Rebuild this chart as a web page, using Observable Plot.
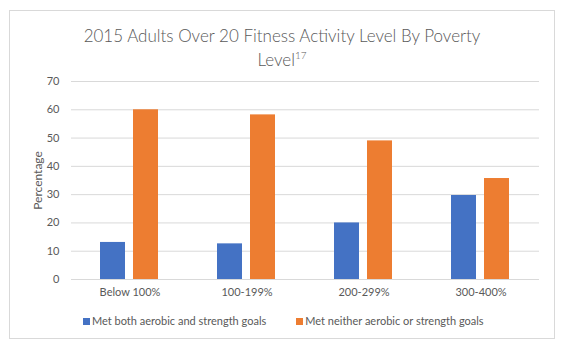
<!DOCTYPE html>
<html>
<head>
<meta charset="utf-8">
<script src="https://cdn.jsdelivr.net/npm/d3@7"></script>
<script src="https://cdn.jsdelivr.net/npm/@observablehq/plot@0.6"></script>
<style>
  html, body { margin: 0; padding: 0; background: #fff; }
  body { width: 570px; height: 349px; position: relative; overflow: hidden; font-family: Lato, "Open Sans", sans-serif; }
  #frame { position: absolute; left: 9px; top: 10px; width: 546px; height: 329px; box-sizing: border-box; border: 1px solid #d9d9d9; }
  #title { position: absolute; left: 9px; width: 546px; top: 24px; text-align: center; color: #595959; font-size: 17px; line-height: 24px; font-weight: 300; }
  #title sup { font-size: 10px; vertical-align: 7px; line-height: 0; }
  #chart { position: absolute; left: 0; top: 70px; }
  #legend { position: absolute; top: 314px; left: 83px; display: flex; gap: 30px; color: #595959; font-size: 11px; line-height: 14px; white-space: nowrap; }
  #legend .item { display: flex; align-items: center; }
  #legend .sw { width: 7px; height: 7px; margin-right: 2px; }
</style>
</head>
<body>
<div id="frame"></div>
<div id="title">2015 Adults Over 20 Fitness Activity Level By Poverty<br>Level<sup>17</sup></div>
<div id="chart"></div>
<div id="legend"></div>
<script>
const categories = ["Below 100%", "100-199%", "200-299%", "300-400%"];
const seriesNames = ["Met both aerobic and strength goals", "Met neither aerobic or strength goals"];
const metBoth = [13.1, 12.6, 20.0, 29.7];
const metNeither = [60.0, 58.2, 49.0, 35.7];
const seriesColors = ["#4472C4", "#ED7D31"];
const yTicks = [0, 10, 20, 30, 40, 50, 60, 70];
const yLabel = "Percentage";

const table = [];
categories.forEach((c, i) => {
  table.push({category: c, series: seriesNames[0], value: metBoth[i]});
  table.push({category: c, series: seriesNames[1], value: metNeither[i]});
});

const chart = Plot.plot({
  width: 570,
  height: 234,
  marginLeft: 70,
  marginRight: 30,
  marginTop: 11,
  marginBottom: 25,
  style: {fontFamily: "Lato, 'Open Sans', sans-serif", fontSize: "11px", color: "#595959", background: "transparent"},
  fx: {domain: categories, padding: 0, label: null},
  x: {domain: seriesNames, paddingInner: 0.235, paddingOuter: 0.846, axis: null},
  y: {domain: [0, 70], ticks: yTicks, label: null},
  color: {domain: seriesNames, range: seriesColors},
  marks: [
    Plot.gridY(yTicks, {stroke: "#d9d9d9", strokeOpacity: 1}),
    Plot.barY(table, {fx: "category", x: "series", y: "value", fill: "series"}),
    Plot.ruleY([0], {stroke: "#d9d9d9"}),
    Plot.axisY(yTicks, {tickSize: 0, tickPadding: 12, fontSize: 11, label: yLabel, labelAnchor: "center", labelArrow: "none", labelOffset: 38}),
    Plot.axisFx({anchor: "bottom", tickSize: 0, tickPadding: 9, label: null, fontSize: 11})
  ]
});
document.getElementById("chart").appendChild(chart);
// axis label font size to match reference
chart.querySelectorAll("[aria-label='y-axis label'] text, [aria-label='y-axis label']").forEach(n => n.setAttribute("font-size", 12));

const legend = document.getElementById("legend");
seriesNames.forEach((s, i) => {
  const item = document.createElement("div");
  item.className = "item";
  const sw = document.createElement("span");
  sw.className = "sw";
  sw.style.background = seriesColors[i];
  item.appendChild(sw);
  item.appendChild(document.createTextNode(s));
  legend.appendChild(item);
});
</script>
</body>
</html>
